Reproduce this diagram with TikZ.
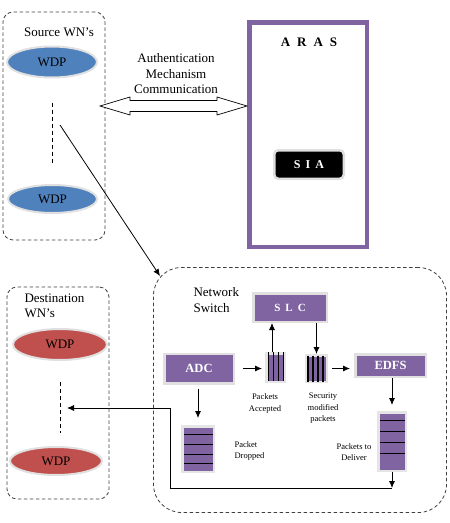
\documentclass[tikz,border=0pt]{standalone}
\usepackage{fontspec}
\setmainfont{Liberation Serif}
\usetikzlibrary{shapes.geometric, arrows.meta, positioning, calc}
\definecolor{wblue}{HTML}{4F81BD}
\definecolor{wred}{HTML}{C0504D}
\definecolor{wpurp}{HTML}{8064A2}
\newcommand{\widesp}[1]{\spaceskip=#1\relax}
\tikzset{
  grp/.style = {draw=black!75, dash pattern=on 3.5pt off 2.5pt, line width=0.8pt,
    rounded corners=10pt, inner sep=0pt},
  wdp/.style = {ellipse, draw=black!12, line width=2pt, inner sep=0pt,
    minimum width=92pt, minimum height=31pt},
  mod/.style = {draw=black!12, fill=wpurp, line width=2.5pt, text=white,
    font=\fontsize{12.5}{14}\selectfont\bfseries, inner sep=0pt},
  que/.style = {draw=black!10, fill=wpurp, line width=2.5pt, inner sep=0pt},
  lbl/.style = {font=\fontsize{8.5}{11.5}\selectfont, align=center},
  arr/.style = {-{Latex[length=7pt, width=6pt]}, line width=0.8pt},
  dsh/.style = {dash pattern=on 4pt off 3pt, line width=0.9pt},
  dbl/.style = {draw=black, fill=white, line width=0.7pt},
  ql/.style = {line width=1pt}
}

\begin{document}
\begin{tikzpicture}[x=1pt, y=-1pt, font=\fontsize{13}{15.5}\selectfont]
  \useasboundingbox (0,0) rectangle (450,523);

  % source nodes
  \node [grp, minimum width=102pt, minimum height=228pt] (src) at (54,126) {};
  \node (srctxt) at (59,32) {Source WN's};
  \node [wdp, fill=wblue, minimum width=90pt, minimum height=31pt] (src1) at (52,62) {WDP};
  \node [wdp, fill=wblue, minimum width=89pt, minimum height=28pt] (src2) at (52.5,199) {WDP};
  \draw [dsh, shorten <=24pt, shorten >=20pt] (src1.south) -- (src1.south |- src2.north);

  % ARAS
  \node [draw=wpurp, line width=3.5pt, minimum width=118.5pt, minimum height=225.5pt,
    inner sep=0pt] (aras) at (308,134.5) {};
  \draw [wpurp, line width=1pt] ($(aras.north west)+(4,4)$) rectangle ($(aras.south east)+(-4,-4)$);
  \node [font=\fontsize{13}{15}\selectfont\bfseries] (arastxt) at (309,42) {\widesp{7pt}A R A S};
  \node [fill=black, draw=black!12, line width=2.5pt, rounded corners=4pt, text=white,
    font=\fontsize{12}{14}\selectfont\bfseries,
    minimum width=69.5pt, minimum height=28.5pt] (sia) at (309,164.5) {\widesp{5pt}S I A};

  % authentication link
  \coordinate (al) at (100,106);
  \coordinate (ar) at (247,106);
  \draw [dbl] (al) -- ++(30,-9) -- ++(0,3.5) -- ($(ar)+(-30,-5.5)$) -- ++(0,-3.5) -- (ar)
    -- ++(-30,9) -- ++(0,-3.5) -- ($(al)+(30,5.5)$) -- ++(0,3.5) -- cycle;
  \node [align=center] (authtxt) at (176,74) {Authentication\\Mechanism\\Communication};

  % network switch
  \node [grp, rounded corners=28pt, minimum width=293pt, minimum height=245pt] (sw) at (300,390) {};
  \node [anchor=north west, align=left] (swtxt) at (190,284) {Network\\Switch};
  \coordinate (srcout) at (60,125);
  \coordinate (swin) at (160,276);
  \draw [arr] (srcout) -- (swin);

  \node [mod, font=\fontsize{11}{13}\selectfont\bfseries,
    minimum width=73.5pt, minimum height=28.5pt] (slc) at (290,307.5) {\widesp{5pt}S L C};
  \node [mod, minimum width=69.5pt, minimum height=29.5pt] (adc) at (199,368.5) {ADC};
  \node [mod, minimum width=70.5pt, minimum height=22.5pt] (edfs) at (390.5,365.5) {EDFS};

  \node [que, minimum width=18.5pt, minimum height=28.5pt] (qacc) at (275.5,367.5) {};
  \foreach \x in {268,273,278,283} \draw [ql] (\x,352) -- (\x,381);
  \node [que, minimum width=20.5pt, minimum height=26.5pt] (qsec) at (316.5,368.5) {};
  \foreach \x in {308,313,318,323} \draw [ql, line width=1.6pt] (\x,355.5) -- (\x,381.5);
  \node [que, minimum width=31.5pt, minimum height=45.5pt] (qdrop) at (198,449) {};
  \foreach \y in {434,444,454,463} \draw [ql] (183.5,\y) -- (212.5,\y);
  \node [que, minimum width=27.5pt, minimum height=58.5pt] (qdel) at (392,441.5) {};
  \foreach \y in {420,431,442,453} \draw [ql] (379.5,\y) -- (404.5,\y);

  \node [lbl] (acctxt) at (265,403.5) {Packets\\Accepted};
  \node [lbl] (sectxt) at (323,408.5) {Security\\modified\\packets};
  \node [lbl, anchor=west, align=left] (droptxt) at (231,451) {Packet\\Dropped};
  \node [lbl] (deltxt) at (354,452) {Packets to\\Deliver};

  \draw [arr, shorten <=8pt, shorten >=3pt] (adc.east) -- (adc.east -| qacc.west);
  \draw [arr] ([xshift=-3.5pt]qacc.north) -- ([xshift=-3.5pt]qacc.north |- slc.south);
  \draw [arr] (slc.south -| qsec.north) -- (qsec.north);
  \draw [arr, shorten <=4pt, shorten >=4pt] (qsec.east) -- (qsec.east -| edfs.west);
  \draw [arr, shorten <=4pt, shorten >=7pt] (adc.south -| qdrop.north) -- (qdrop.north);
  \draw [arr, shorten >=6pt] (edfs.south -| qdel.north) -- (qdel.north);

  % return to destination
  \coordinate (ret) at (392,488);
  \coordinate (turn) at (170,488);
  \coordinate (dstin) at (67,408);
  \draw [arr] (qdel.south) -- (ret);
  \draw [arr] (ret) -- (turn) |- (dstin);

  % destination nodes
  \node [grp, minimum width=102pt, minimum height=212pt] (dst) at (58,393) {};
  \node [anchor=north west, align=left] (dsttxt) at (21,290) {Destination\\WN's};
  \node [wdp, fill=wred, minimum width=94pt, minimum height=31pt] (dst1) at (60,344.5) {WDP};
  \node [wdp, fill=wred, minimum width=92pt, minimum height=28pt] (dst2) at (56,461) {WDP};
  \draw [dsh, shorten <=21pt, shorten >=13pt] (dst1.south) -- (dst1.south |- dst2.north);
\end{tikzpicture}
\end{document}
